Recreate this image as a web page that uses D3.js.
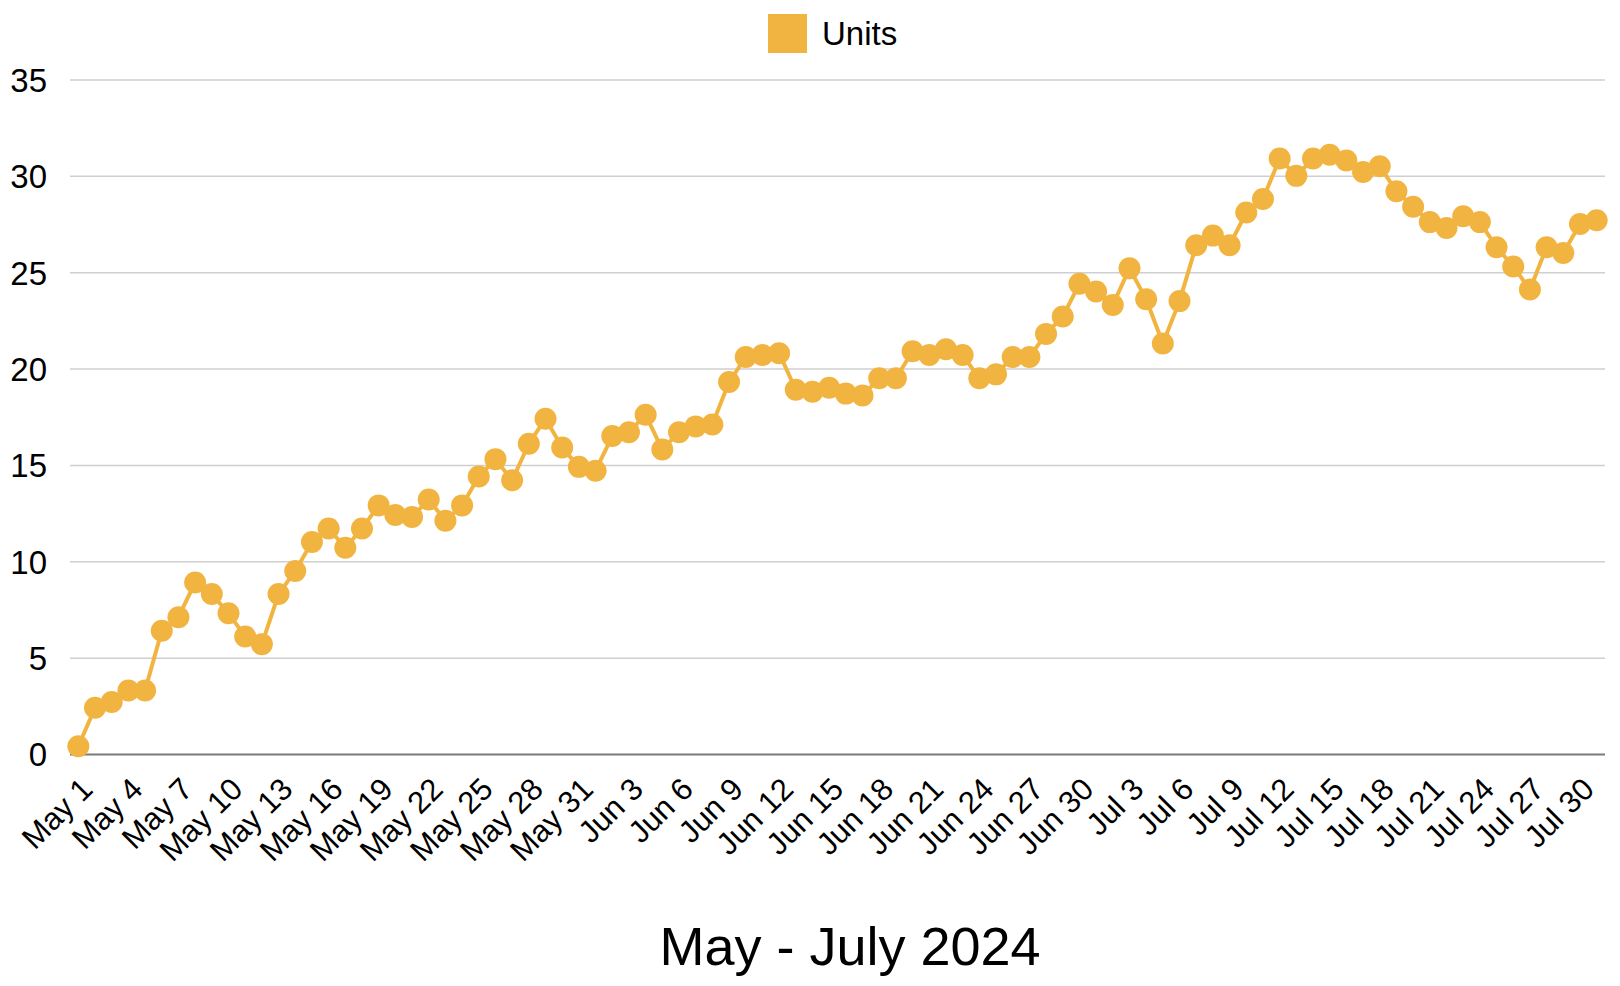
<!DOCTYPE html>
<html><head><meta charset="utf-8">
<script src="https://cdn.jsdelivr.net/npm/d3@7"></script>
<style>
body{margin:0;background:#fff}
svg{display:block}
text{font-family:Helvetica,"Liberation Sans",Arial,sans-serif;fill:#000}
</style>
</head><body>
<svg id="chart" width="1620" height="986"></svg>
<script>
const seriesName = "Units";
const xTitle = "May - July 2024";
const dates = d3.timeDay.range(new Date(2024, 4, 1), new Date(2024, 7, 1)); // May 1 .. Jul 31
const fmt = d3.timeFormat("%b %-d");
const categories = dates.map(fmt);
const units = [
  0.4, 2.4, 2.7, 3.3, 3.3, 6.4, 7.1, 8.9, 8.3, 7.3,
  6.1, 5.7, 8.3, 9.5, 11.0, 11.7, 10.7, 11.7, 12.9, 12.4,
  12.3, 13.2, 12.1, 12.9, 14.4, 15.3, 14.2, 16.1, 17.4, 15.9,
  14.9, 14.7, 16.5, 16.7, 17.6, 15.8, 16.7, 17.0, 17.1, 19.3,
  20.6, 20.7, 20.8, 18.9, 18.8, 19.0, 18.7, 18.6, 19.5, 19.5,
  20.9, 20.7, 21.0, 20.7, 19.5, 19.7, 20.6, 20.6, 21.8, 22.7,
  24.4, 24.0, 23.3, 25.2, 23.6, 21.3, 23.5, 26.4, 26.9, 26.4,
  28.1, 28.8, 30.9, 30.0, 30.9, 31.1, 30.8, 30.2, 30.5, 29.2,
  28.4, 27.6, 27.3, 27.9, 27.6, 26.3, 25.3, 24.1, 26.3, 26.0,
  27.5, 27.7
];
const tickLabels = ["May 1","May 4","May 7","May 10","May 13","May 16","May 19","May 22","May 25","May 28","May 31",
  "Jun 3","Jun 6","Jun 9","Jun 12","Jun 15","Jun 18","Jun 21","Jun 24","Jun 27","Jun 30",
  "Jul 3","Jul 6","Jul 9","Jul 12","Jul 15","Jul 18","Jul 21","Jul 24","Jul 27","Jul 30"];
const yTicks = [0, 5, 10, 15, 20, 25, 30, 35];

const color = "#F2B441";
const FONT = 'Helvetica,"Liberation Sans",Arial,sans-serif';
const svg = d3.select("#chart");
const x = d3.scaleBand().domain(categories).range([70, 1605]).padding(0);
const xc = d => x(d) + x.bandwidth() / 2;
const y = d3.scaleLinear().domain([0, 35]).range([754, 79.5]);

// gridlines + y labels
const yAxis = d3.axisLeft(y).tickValues(yTicks).tickSize(-(1605 - 70)).tickPadding(23);
const gy = svg.append("g").attr("transform", "translate(70,0)").call(yAxis);
gy.select(".domain").remove();
gy.selectAll(".tick line").attr("stroke", d => d === 0 ? "#7a7a7a" : "#cfcfcf").attr("stroke-width", d => d === 0 ? 1.8 : 1.5);
gy.selectAll(".tick text").attr("font-size", 33).attr("fill", "#000").attr("dy", "0.36em").style("font-family", FONT);

// x axis labels
const xAxis = d3.axisBottom(x).tickValues(tickLabels).tickSize(0).tickPadding(0);
const gx = svg.append("g").attr("transform", "translate(0,754)").call(xAxis);
gx.select(".domain").remove();
gx.selectAll(".tick text")
  .attr("font-size", 31).attr("fill", "#000").style("font-family", FONT)
  .attr("text-anchor", "end").attr("dy", null).attr("y", null)
  .attr("transform", "translate(16,37) rotate(-45)");

// line + points
const line = d3.line().x((d, i) => xc(categories[i])).y(d => y(d));
svg.append("path").datum(units).attr("d", line).attr("fill", "none")
  .attr("stroke", color).attr("stroke-width", 4).attr("stroke-linejoin", "round");
svg.append("g").selectAll("circle").data(units).join("circle")
  .attr("cx", (d, i) => xc(categories[i])).attr("cy", d => y(d)).attr("r", 11).attr("fill", color);

// legend
svg.append("rect").attr("x", 768).attr("y", 14).attr("width", 39).attr("height", 39).attr("fill", color);
svg.append("text").attr("x", 822).attr("y", 45).attr("font-size", 33).text(seriesName);

// x title
svg.append("text").attr("x", 850).attr("y", 965).attr("text-anchor", "middle").attr("font-size", 54).text(xTitle);
</script>
</body></html>
